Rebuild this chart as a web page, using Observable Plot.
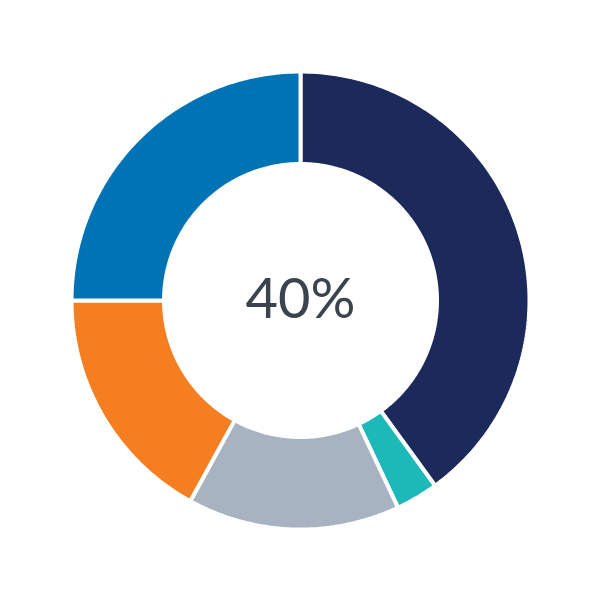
<!DOCTYPE html>
<html>
<head>
<meta charset="utf-8">
<script src="https://cdn.jsdelivr.net/npm/d3@7"></script>
<script src="https://cdn.jsdelivr.net/npm/@observablehq/plot@0.6"></script>
<style>
  html, body { margin: 0; padding: 0; background: #fff; }
  #chart { width: 600px; height: 600px; }
</style>
</head>
<body>
<div id="chart"></div>
<script>
// Data
const categories = ["A", "B", "C", "D", "E"];
const values = [40, 3, 15, 17, 25];
const colors = ["#1c2a5b", "#1db8b8", "#a8b3c2", "#f47e20", "#0073b5"];
const centerLabel = "40%";

const innerRatio = 0.596;

// Build slice polygons from the values via d3.pie
const pie = d3.pie().sort(null).value(d => d.value);
const arcs = pie(categories.map((c, i) => ({ key: c, value: values[i] })));
const pts = [];
for (const a of arcs) {
  const n = Math.max(2, Math.ceil((a.endAngle - a.startAngle) / (Math.PI / 180)));
  const ring = [];
  for (let i = 0; i <= n; i++) {
    const t = a.startAngle + (a.endAngle - a.startAngle) * i / n;
    ring.push({ key: a.data.key, x: Math.sin(t), y: Math.cos(t) });
  }
  for (let i = n; i >= 0; i--) {
    const t = a.startAngle + (a.endAngle - a.startAngle) * i / n;
    ring.push({ key: a.data.key, x: innerRatio * Math.sin(t), y: innerRatio * Math.cos(t) });
  }
  ring.push(ring[0]);
  pts.push(...ring);
}

const R = 300 / 229;
const chart = Plot.plot({
  width: 600,
  height: 600,
  margin: 0,
  x: { domain: [-R, R], axis: null },
  y: { domain: [-R, R], axis: null },
  color: { domain: categories, range: colors },
  marks: [
    Plot.line(pts, { x: "x", y: "y", z: "key", fill: "key", stroke: "white", strokeWidth: 4, strokeLinejoin: "miter", curve: "linear" }),
    Plot.text([{ x: 0, y: 0, label: centerLabel }], {
      x: "x", y: "y", text: "label",
      fontSize: 56, fill: "#3b434f", fontFamily: "Lato", fontWeight: 400, textAnchor: "middle", lineAnchor: "middle"
    })
  ]
});
document.getElementById("chart").appendChild(chart);
</script>
</body>
</html>
